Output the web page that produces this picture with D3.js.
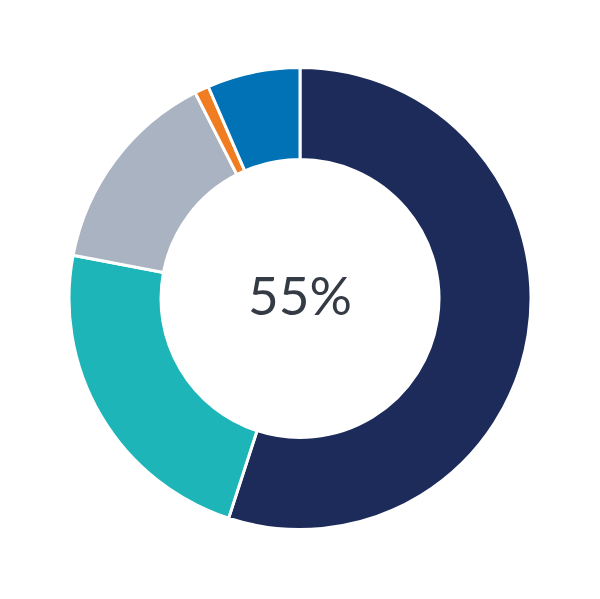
<!DOCTYPE html>
<html><head><meta charset="utf-8">
<script src="https://cdn.jsdelivr.net/npm/d3@7"></script>
<style>html,body{margin:0;padding:0;background:#fff;}</style>
</head><body>
<svg id="c" width="600" height="599"></svg>
<script>
const categories = ["A", "B", "C", "D", "E"];
const values = [55, 23.0, 14.5, 1.0, 6.5];
const colors = ["#1c2b5a", "#1db5b8", "#a9b3c1", "#f07d22", "#0072b5"];
const centerLabel = "55%";

const svg = d3.select("#c");
const g = svg.append("g").attr("transform", "translate(300,298.5)");
const pie = d3.pie().sort(null).value(d => d.v);
const data = pie(categories.map((c, i) => ({c, v: values[i], col: colors[i]})));
const arc = d3.arc().innerRadius(139).outerRadius(231);
g.selectAll("path").data(data).join("path")
  .attr("d", arc).attr("fill", d => d.data.col)
  .attr("stroke", "#fff").attr("stroke-width", 3).attr("stroke-linejoin", "miter");
g.append("text").attr("text-anchor", "middle").attr("y", 16)
  .attr("font-family", "Lato, sans-serif").attr("font-size", 53)
  .attr("fill", "#353b45").text(centerLabel);
</script>
</body></html>
